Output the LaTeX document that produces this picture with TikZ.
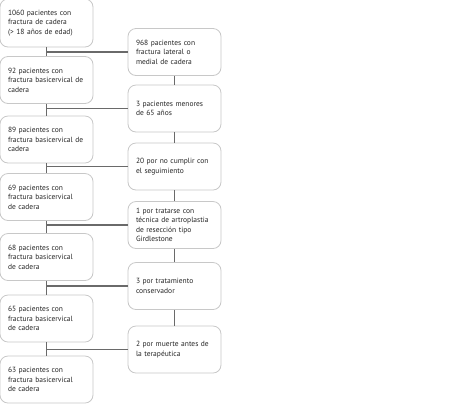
\documentclass[tikz,border=0pt]{standalone}
\usepackage{fontspec}
\setmainfont{PT Sans}
\begin{document}
\begin{tikzpicture}[x=1bp,y=-1bp,
  flowbox/.style={draw=boxgray, line width=0.8bp, rounded corners=8bp, fill=white,
    minimum width=93bp, minimum height=47bp, inner xsep=8bp, inner ysep=2bp,
    text width=77bp, align=left, text=textgray,
    font=\fontsize{7.5bp}{9.5bp}\selectfont},
  link/.style={draw=linegray, line width=1.1bp}]
\definecolor{boxgray}{HTML}{C8C8C8}
\definecolor{linegray}{HTML}{6A6A6A}
\definecolor{textgray}{HTML}{262626}
\useasboundingbox (0,0) rectangle (474,404);
\fill[white] (0,0) rectangle (474,404);
% left column
\node[flowbox, minimum height=48bp] (L1) at (46.5,23) {1060 pacientes con\\fractura de cadera\\(> 18 años de edad)};
\node[flowbox] (L2) at (46.5,80) {92 pacientes con\\fractura basicervical de\\cadera};
\node[flowbox] (L3) at (46.5,139.5) {89 pacientes con\\fractura basicervical de\\cadera};
\node[flowbox] (L4) at (46.5,197) {69 pacientes con\\fractura basicervical\\de cadera};
\node[flowbox] (L5) at (46.5,257) {68 pacientes con\\fractura basicervical\\de cadera};
\node[flowbox] (L6) at (46.5,318.5) {65 pacientes con\\fractura basicervical\\de cadera};
\node[flowbox] (L7) at (46.5,379.5) {63 pacientes con\\fractura basicervical\\de cadera};
% right column
\node[flowbox] (R1) at (174.5,52) {968 pacientes con\\fractura lateral o\\medial de cadera};
\node[flowbox] (R2) at (174.5,108.5) {3 pacientes menores\\de 65 años};
\node[flowbox] (R3) at (174.5,166.5) {20 por no cumplir con\\el seguimiento};
\node[flowbox] (R4) at (174.5,225) {1 por tratarse con\\técnica de artroplastia\\de resección tipo\\Girdlestone};
\node[flowbox] (R5) at (174.5,286) {3 por tratamiento\\conservador};
\node[flowbox] (R6) at (174.5,349.5) {2 por muerte antes de\\la terapéutica};
% connectors
\foreach \a/\b in {L1/L2,L2/L3,L3/L4,L4/L5,L5/L6,L6/L7,R1/R2,R2/R3,R3/R4,R4/R5,R5/R6}
  \draw[link] (\a.south) -- (\b.north);
\foreach \l/\r in {L1/R1,L2/R2,L3/R3,L4/R4,L5/R5,L6/R6}
  \draw[link] (\l.south |- \r.west) -- (\r.west);
\end{tikzpicture}
\end{document}
